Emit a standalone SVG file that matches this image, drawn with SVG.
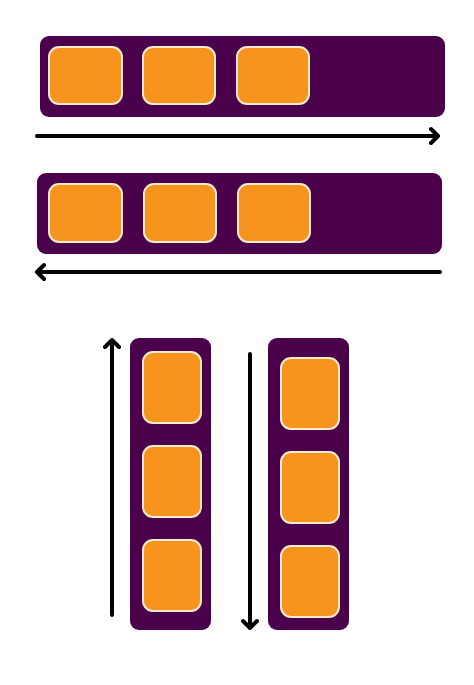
<svg xmlns="http://www.w3.org/2000/svg" width="474" height="685" viewBox="0 0 474 685">
<style>
.bar{fill:#4b004b}
.box{fill:#f7941e;stroke:#fdebd0;stroke-width:2}
.arr{fill:none;stroke:#000;stroke-width:4;stroke-linecap:round;stroke-linejoin:round}
</style>
<rect width="474" height="685" fill="#fff"/>
<g id="row1">
<rect class="bar" x="40" y="36" width="405" height="81" rx="9"/>
<rect class="box" x="49" y="47" width="73" height="57" rx="10"/>
<rect class="box" x="143" y="47" width="72" height="57" rx="10"/>
<rect class="box" x="237" y="47" width="72" height="57" rx="10"/>
</g>
<g id="row2">
<rect class="bar" x="37" y="173" width="405" height="81" rx="9"/>
<rect class="box" x="49" y="184" width="73" height="58" rx="10"/>
<rect class="box" x="144" y="184" width="72" height="58" rx="10"/>
<rect class="box" x="238" y="184" width="72" height="58" rx="10"/>
</g>
<g id="col1">
<rect class="bar" x="130" y="338" width="81" height="292" rx="9"/>
<rect class="box" x="143" y="352" width="58" height="71" rx="10"/>
<rect class="box" x="143" y="446" width="58" height="71" rx="10"/>
<rect class="box" x="143" y="540" width="58" height="71" rx="10"/>
</g>
<g id="col2">
<rect class="bar" x="268" y="338" width="81" height="292" rx="9"/>
<rect class="box" x="281" y="358" width="58" height="71" rx="10"/>
<rect class="box" x="281" y="452" width="58" height="71" rx="10"/>
<rect class="box" x="281" y="546" width="58" height="71" rx="10"/>
</g>
<g id="connectors">
<path class="arr" d="M37 136H438M431 129L438 136L431 143"/>
<path class="arr" d="M440 272H37M44 265L37 272L44 279"/>
<path class="arr" d="M112 615V340M105 347L112 340L119 347"/>
<path class="arr" d="M250 354V628M243 621L250 628L257 621"/>
</g>
</svg>
